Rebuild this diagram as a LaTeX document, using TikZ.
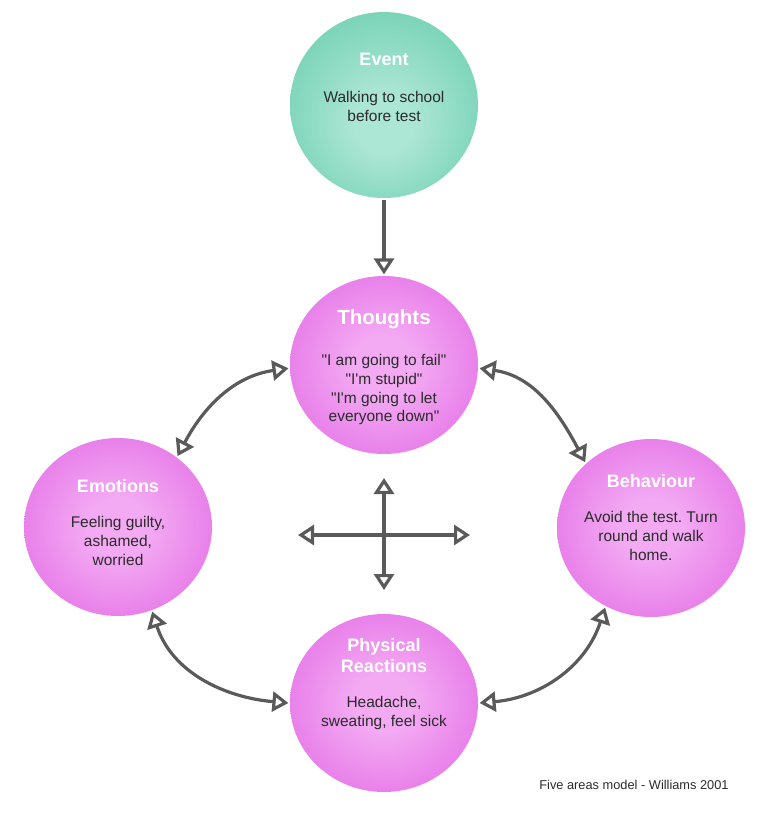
\documentclass[tikz,border=0pt]{standalone}
\usepackage{fontspec}
\setmainfont{Liberation Sans}[Ligatures=TeXOff]
\frenchspacing
\usetikzlibrary{arrows.meta, shapes.geometric}
\definecolor{evlight}{RGB}{172,230,212}
\definecolor{evmid}{RGB}{112,208,178}
\definecolor{evdark}{RGB}{56,176,140}
\definecolor{arlight}{RGB}{243,170,243}
\definecolor{armid}{RGB}{228,112,230}
\definecolor{ardark}{RGB}{202,52,206}
\definecolor{linkgrey}{HTML}{5A5A5A}
\definecolor{bodytext}{HTML}{2B2B2B}
\pgfdeclareradialshading{eventball}{\pgfpoint{0bp}{-6bp}}{color(0bp)=(evlight); color(8bp)=(evlight); color(32bp)=(evmid); color(50bp)=(evdark)}
\pgfdeclareradialshading{areaball}{\pgfpoint{0bp}{0bp}}{color(0bp)=(arlight); color(8bp)=(arlight); color(32bp)=(armid); color(50bp)=(ardark)}

\begin{document}
\begin{tikzpicture}[x=1pt, y=1pt, line width=3.2pt,
    >={Triangle[open, length=16pt, width=20pt]},
    area/.style={ellipse, minimum width=188pt, minimum height=178pt, inner sep=0pt, shading=areaball},
    areatitle/.style={anchor=north, align=center, inner sep=0pt, text=white,
      font=\fontsize{18}{21}\selectfont\bfseries},
    areatext/.style={anchor=north, align=center, inner sep=0pt, text=bodytext,
      font=\fontsize{15.5}{18.6}\selectfont},
    link/.style={draw=linkgrey, <->}]
  \useasboundingbox (0,0) rectangle (768,-828);

  \node[area, shading=eventball, minimum height=186pt] (event) at (384,-105) {};
  \node[area] (thoughts) at (384,-365) {};
  \node[area] (emotions) at (118,-527) {};
  \node[area] (behaviour) at (651,-528) {};
  \node[area] (physical) at (384,-703) {};

  \node[areatitle] (event-title) at ([yshift=53pt]event.center) {Event};
  \node[areatext] (event-text) at ([yshift=15pt]event.center) {Walking to school\\before test};
  \node[areatitle, font=\fontsize{20.5}{24}\selectfont\bfseries] (thoughts-title)
    at ([yshift=57pt]thoughts.center) {Thoughts};
  \node[areatext] (thoughts-text) at ([yshift=12pt]thoughts.center)
    {"I am going to fail"\\"I'm stupid"\\"I'm going to let\\everyone down"};
  \node[areatitle] (emotions-title) at ([yshift=49pt]emotions.center) {Emotions};
  \node[areatext] (emotions-text) at ([yshift=12pt]emotions.center) {Feeling guilty,\\ashamed,\\worried};
  \node[areatitle] (behaviour-title) at ([yshift=55pt]behaviour.center) {Behaviour};
  \node[areatext] (behaviour-text) at ([yshift=18pt]behaviour.center) {Avoid the test. Turn\\round and walk\\home.};
  \node[areatitle] (physical-title) at ([yshift=66pt]physical.center) {Physical\\Reactions};
  \node[areatext] (physical-text) at ([yshift=8pt]physical.center) {Headache,\\sweating, feel sick};

  \draw[draw=linkgrey, ->] (event.south) -- (thoughts.north);
  \draw[link] (emotions.50) to[out=62, in=188] (thoughts.182);
  \draw[link] (thoughts.-2) to[out=-8, in=118] (behaviour.135);
  \draw[link] (emotions.-68) to[out=-72, in=175] (physical.180);
  \draw[link] (physical.0) to[out=5, in=-108] (behaviour.-120);

  \coordinate (hub) at (384,-535);
  \coordinate (hub-n) at (384,-478);
  \coordinate (hub-s) at (384,-590);
  \coordinate (hub-w) at (298,-535);
  \coordinate (hub-e) at (470,-535);
  \draw[link] (hub-w) -- (hub-e);
  \draw[link] (hub-s) -- (hub-n);

  \node[anchor=base, text=bodytext, font=\fontsize{12.8}{15}\selectfont] (caption) at (634,-789)
    {Five areas model - Williams 2001};
\end{tikzpicture}
\end{document}
